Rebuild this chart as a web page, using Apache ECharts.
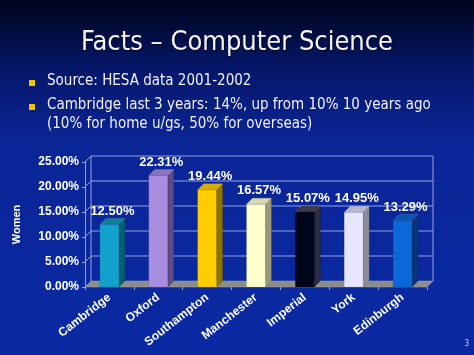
<!DOCTYPE html>
<html>
<head>
<meta charset="utf-8">
<script src="https://cdn.jsdelivr.net/npm/echarts@6/dist/echarts.min.js"></script>
<style>
  html, body { margin: 0; padding: 0; }
  #chart { width: 474px; height: 355px; }
</style>
</head>
<body>
<div id="chart"></div>
<script>
const categories = ['Cambridge', 'Oxford', 'Southampton', 'Manchester', 'Imperial', 'York', 'Edinburgh']
const women = [12.50, 22.31, 19.44, 16.57, 15.07, 14.95, 13.29]
const yTicks = [0, 5, 10, 15, 20, 25]
const bullets = [
  'Source: HESA data 2001-2002',
  'Cambridge last 3 years: 14%, up from 10% 10 years ago',
  '(10% for home u/gs, 50% for overseas)'
]

// front / side / top colours of each bar
const barColors = [
  ['#12a0cc', '#0a5c70', '#0c7f95'],
  ['#a98ee0', '#5e4a88', '#8c74c0'],
  ['#ffcc00', '#8f7300', '#d8ad00'],
  ['#ffffcc', '#9a9a78', '#d8d8a8'],
  ['#00061a', '#2c2c3c', '#3a3a48'],
  ['#e6e6ff', '#8c8c9a', '#b8b8c8'],
  ['#0a68d8', '#08357a', '#0a55b0']
]

const DX = 6
const DY = -6
const font = '"DejaVu Sans Condensed", "Noto Sans", sans-serif'
const gridColor = '#95a3e6'

const chart = echarts.init(document.getElementById('chart'))

const option = {
  animation: false,
  backgroundColor: {
    type: 'linear', x: 0, y: 0, x2: 0, y2: 1,
    colorStops: [
      { offset: 0, color: '#00041a' },
      { offset: 0.18, color: '#061666' },
      { offset: 0.4, color: '#0a2596' },
      { offset: 1, color: '#0a2aa4' }
    ]
  },
  graphic: [
    {
      type: 'text', left: 'center', top: 29,
      style: {
        text: 'Facts – Computer Science', fill: '#f4f4ff',
        font: '27px ' + font,
        textShadowColor: 'rgba(0,0,0,0.6)', textShadowOffsetX: 1, textShadowOffsetY: 1, textShadowBlur: 1
      }
    },
    { type: 'rect', shape: { x: 29, y: 80, width: 6, height: 6 }, style: { fill: '#f0c400' } },
    { type: 'rect', shape: { x: 29, y: 104, width: 6, height: 6 }, style: { fill: '#f0c400' } },
    {
      type: 'text', left: 47, top: 74,
      style: { text: bullets[0], fill: '#f0f0ff', font: '15px ' + font }
    },
    {
      type: 'text', left: 47, top: 98,
      style: { text: bullets[1], fill: '#f0f0ff', font: '15px ' + font }
    },
    {
      type: 'text', left: 47, top: 117,
      style: { text: bullets[2], fill: '#f0f0ff', font: '15px ' + font }
    },
    {
      type: 'text', right: 5, top: 340,
      style: { text: '3', fill: '#c8d0ff', font: '8px ' + font }
    }
  ],
  grid: {
    left: 85,
    right: 47,
    top: 162,
    bottom: 68
  },
  xAxis: {
    type: 'category',
    data: categories,
    axisLine: { show: false },
    axisTick: { show: true, length: 3, lineStyle: { color: gridColor } },
    axisLabel: {
      rotate: 38,
      margin: 9,
      color: '#ffffff',
      fontFamily: 'Arial, "Liberation Sans", sans-serif',
      fontWeight: 'bold',
      fontSize: 12
    }
  },
  yAxis: {
    type: 'value',
    min: 0,
    max: 25,
    interval: 5,
    name: 'Women',
    nameLocation: 'middle',
    nameRotate: 90,
    nameGap: 63,
    nameTextStyle: {
      color: '#ffffff',
      fontFamily: 'Arial, "Liberation Sans", sans-serif',
      fontWeight: 'bold',
      fontSize: 11
    },
    axisLine: { show: true, lineStyle: { color: gridColor } },
    axisTick: { show: true, length: 3, lineStyle: { color: gridColor } },
    splitLine: { show: false },
    axisLabel: {
      margin: 6,
      color: '#ffffff',
      fontFamily: 'Arial, "Liberation Sans", sans-serif',
      fontWeight: 'bold',
      fontSize: 12,
      formatter: v => v.toFixed(2) + '%'
    }
  },
  series: [
    {
      // back wall, left wall and floor
      type: 'custom',
      clip: false,
      silent: true,
      z: 1,
      data: yTicks.map(v => [0, v]),
      renderItem: (params, api) => {
        const cs = params.coordSys
        const v = api.value(1)
        const y = api.coord([0, v])[1]
        const left = cs.x
        const right = cs.x + cs.width
        const children = []
        if (v === 0) {
          children.push({
            type: 'polygon',
            shape: { points: [[left, y], [right, y], [right + DX, y + DY], [left + DX, y + DY]] },
            style: { fill: '#8c8c8c', stroke: '#a0a0a0', lineWidth: 0.5 }
          })
          children.push({
            type: 'line',
            shape: { x1: left + DX, y1: y + DY, x2: left + DX, y2: cs.y + DY },
            style: { stroke: gridColor, lineWidth: 1 }
          })
          children.push({
            type: 'line',
            shape: { x1: right + DX, y1: y + DY, x2: right + DX, y2: cs.y + DY },
            style: { stroke: gridColor, lineWidth: 1 }
          })
        } else {
          children.push({
            type: 'polyline',
            shape: { points: [[left, y], [left + DX, y + DY], [right + DX, y + DY]] },
            style: { stroke: gridColor, lineWidth: 1, fill: null }
          })
        }
        return { type: 'group', children }
      }
    },
    {
      type: 'custom',
      clip: false,
      z: 3,
      data: women.map((v, i) => [i, v]),
      renderItem: (params, api) => {
        const i = api.value(0)
        const v = api.value(1)
        const p0 = api.coord([i, 0])
        const p1 = api.coord([i, v])
        const w = api.size([1, 0])[0] * 0.39
        const x0 = p0[0] - w / 2
        const x1 = x0 + w
        const yb = p0[1]
        const yt = p1[1]
        const c = barColors[i]
        return {
          type: 'group',
          children: [
            {
              type: 'polygon',
              shape: { points: [[x1, yt], [x1 + DX, yt + DY], [x1 + DX, yb + DY], [x1, yb]] },
              style: { fill: c[1], stroke: 'rgba(0,0,0,0.25)', lineWidth: 0.5 }
            },
            {
              type: 'polygon',
              shape: { points: [[x0, yt], [x1, yt], [x1 + DX, yt + DY], [x0 + DX, yt + DY]] },
              style: { fill: c[2], stroke: 'rgba(255,255,255,0.25)', lineWidth: 0.5 }
            },
            {
              type: 'rect',
              shape: { x: x0, y: yt, width: w, height: yb - yt },
              style: { fill: c[0], stroke: 'rgba(0,0,0,0.2)', lineWidth: 0.5 }
            },
            {
              type: 'text',
              x: (x0 + x1 + DX) / 2,
              y: yt + DY - 1,
              style: {
                text: v.toFixed(2) + '%',
                fill: '#ffffff',
                font: 'bold 13px Arial, "Liberation Sans", sans-serif',
                align: 'center',
                verticalAlign: 'bottom'
              }
            }
          ]
        }
      }
    }
  ]
}

chart.setOption(option)
</script>
</body>
</html>
